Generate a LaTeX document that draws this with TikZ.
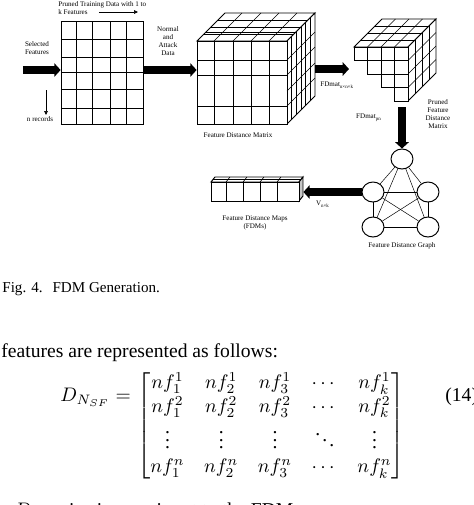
\documentclass[tikz,border=0pt]{standalone}
\usepackage[no-math]{fontspec}
\setmainfont{Liberation Serif}
\usepackage{amsmath,amssymb}
\usetikzlibrary{arrows.meta,positioning,fit,shapes.geometric}

\begin{document}
\begin{tikzpicture}[
    x=0.51pt, y=-0.51pt,
    lbl/.style={font=\fontsize{3.6}{4.1}\selectfont, align=center, inner sep=0pt},
    blk/.style={line width=4pt, -{Triangle[length=3.2pt,width=6.8pt]}},
    thinarr/.style={line width=0.3pt, -{Triangle[length=2pt,width=1.8pt]}},
    gv/.style={ellipse, draw, line width=0.5pt, minimum width=11.2pt, minimum height=10.2pt, inner sep=0pt},
    face/.style={draw, line width=0.5pt, fill=white},
    cell/.style={line width=0.3pt}
]
    \useasboundingbox (0,0) rectangle (474,505);

    % Training data grid
    \foreach \x in {61,76,92,110,126,143} \draw[cell] (\x,21) -- (\x,124);
    \foreach \y in {21,39,57,72,89,108,124} \draw[cell] (61,\y) -- (143,\y);
    \draw[line width=0.5pt] (61,21) rectangle (143,124);
    \node[fit={(61,21) (143,124)}, inner sep=0pt] (train) {};
    \node[lbl, align=left, anchor=north west] (prlbl) at (58,1) {Pruned Training Data with 1 to\\k Features};
    \coordinate (pa) at (99,12);
    \coordinate (pb) at (138,12);
    \draw[thinarr] (pa) -- (pb);
    \node[lbl] (self) at (37,48) {Selected\\Features};
    \coordinate (selin) at (23,70);
    \coordinate (ra) at (46,90);
    \coordinate (rb) at (46,115);
    \draw[thinarr] (ra) -- (rb);
    \node[lbl] (nrec) at (40,119.5) {n records};

    % Feature distance matrix (cube)
    \draw[face] (197,41) -- (225,13) -- (315,13) -- (287,41) -- cycle;
    \draw[face] (287,41) -- (315,13) -- (315,96) -- (287,124) -- cycle;
    \draw[face] (197,41) rectangle (287,124);
    \foreach \x in {214,233,251,269} \draw[cell] (\x,41) -- (\x,124);
    \foreach \y in {60,75,106} \draw[cell] (197,\y) -- (287,\y);
    \foreach \x in {214,233,251,269} \draw[cell] (\x,41) -- ++(28,-28);
    \foreach \d in {7,9,14,21} \draw[cell] (197+\d,41-\d) -- (287+\d,41-\d);
    \foreach \y in {60,75,91,106} \draw[cell] (287,\y) -- ++(28,-28);
    \foreach \d in {4.7,9.3,14,18.7,23.3} \draw[cell] (287+\d,41-\d) -- (287+\d,124-\d);
    \node[fit={(197,13) (315,124)}, inner sep=0pt] (cube) {};
    \node[lbl] (nad) at (168,41) {Normal\\and\\Attack\\Data};
    \node[lbl] (fdmlbl) at (238,135) {Feature Distance Matrix};

    % Pruned feature distance matrix
    \draw[face] (354,47) -- (382,19) -- (436,19) -- (408,47) -- cycle;
    \draw[face] (408,47) -- (436,19) -- (436,73) -- (408,101) -- cycle;
    \foreach \x in {367.5,381,394.5} \draw[cell] (\x,47) -- ++(28,-28);
    \foreach \d in {7,14,21} \draw[cell] (354+\d,47-\d) -- (408+\d,47-\d);
    \foreach \y in {60.5,74,87.5} \draw[cell] (408,\y) -- ++(28,-28);
    \foreach \d in {7,14,21} \draw[cell] (408+\d,47-\d) -- (408+\d,101-\d);
    \foreach \i in {1,...,4}
        \foreach \j in {1,...,\i}
            \draw[face, line width=0.4pt] (340.5+13.5*\i,33.5+13.5*\j) rectangle ++(13.5,13.5);
    \node[fit={(354,19) (436,101)}, inner sep=0pt] (pruned) {};
    \coordinate (prin) at (349,69);
    \node[lbl, anchor=west] (fdnnk) at (320,85) {FDmat\textsubscript{n×n×k}};
    \node[lbl] (pfdm) at (438,114) {Pruned\\Feature\\Distance\\Matrix};
    \node[lbl] (fdpn) at (369,118) {FDmat\textsubscript{pn}};
    \coordinate (prout) at (402,107);

    % Feature distance graph
    \node[gv] (gA) at (402,159) {};
    \node[gv] (gB) at (373,192) {};
    \node[gv] (gC) at (428,192) {};
    \node[gv] (gD) at (373,227) {};
    \node[gv] (gE) at (428,227) {};
    \foreach \a/\b in {gA/gB,gA/gC,gA/gD,gA/gE,gB/gE,gC/gD}
        \draw[line width=0.25pt] (\a) -- (\b);
    \foreach \a/\b in {gB/gC,gB/gD,gC/gE,gD/gE}
        \draw[line width=0.5pt] (\a) -- (\b);
    \node[lbl] (fgl) at (402,246) {Feature Distance Graph};

    % Feature distance maps
    \draw[face] (211,182) -- (215,177) -- (303,177) -- (299,182) -- cycle;
    \draw[draw, line width=0.5pt, fill=gray!45] (299,182) -- (303,177) -- (303,196) -- (299,201) -- cycle;
    \draw[face] (211,182) rectangle (299,201);
    \foreach \x in {226,243,260,277} \draw[cell] (\x,182) -- (\x,201);
    \foreach \x in {226,243,260,277} \draw[cell] (\x,182) -- ++(4,-5);
    \draw[cell] (213,179.5) -- (301,179.5);
    \node[fit={(211,177) (303,201)}, inner sep=0pt] (fdm) {};
    \node[lbl] (fdmaps) at (255,222.5) {Feature Distance Maps\\(FDMs)};
    \node[lbl] (vlbl) at (323,204) {V\textsubscript{n×k}};

    % Block arrows
    \draw[blk] (selin) -- (train.west |- selin);
    \draw[blk] (train.east |- selin) -- (cube.west |- selin);
    \draw[blk] (cube.east |- prin) -- (prin);
    \draw[blk] (prout) -- (gA.north);
    \draw[blk] (gB.west) -- (fdm.east |- gB.west);

    % Caption and text
    \node[anchor=base west, inner sep=0pt, font=\fontsize{7.7}{9.2}\selectfont] (cap) at (2,292) {Fig.\hspace{2.6pt}4.\hspace{5pt}FDM Generation.};
    \node[anchor=base west, inner sep=0pt] (txt) at (1,357) {features are represented as follows:};
    \node[anchor=west, inner sep=0pt] (lhs) at (60,397) {$D_{N_{SF}} =$};
    \node[anchor=north west, inner sep=0pt] (mat) at (137,372) {$\begin{bmatrix}
        nf_1^1 & nf_2^1 & nf_3^1 & \cdots & nf_k^1\\
        nf_1^2 & nf_2^2 & nf_3^2 & \cdots & nf_k^2\\
        \vdots & \vdots & \vdots & \ddots & \vdots\\
        nf_1^n & nf_2^n & nf_3^n & \cdots & nf_k^n
    \end{bmatrix}$};
    \node[anchor=west, inner sep=0pt] (eqno) at (445,397) {(14)};
    \node[anchor=base west, inner sep=0pt] (last) at (14,516) {$D_{N_{SF}}$ is given as input to the FDMgen process.};
\end{tikzpicture}
\end{document}
